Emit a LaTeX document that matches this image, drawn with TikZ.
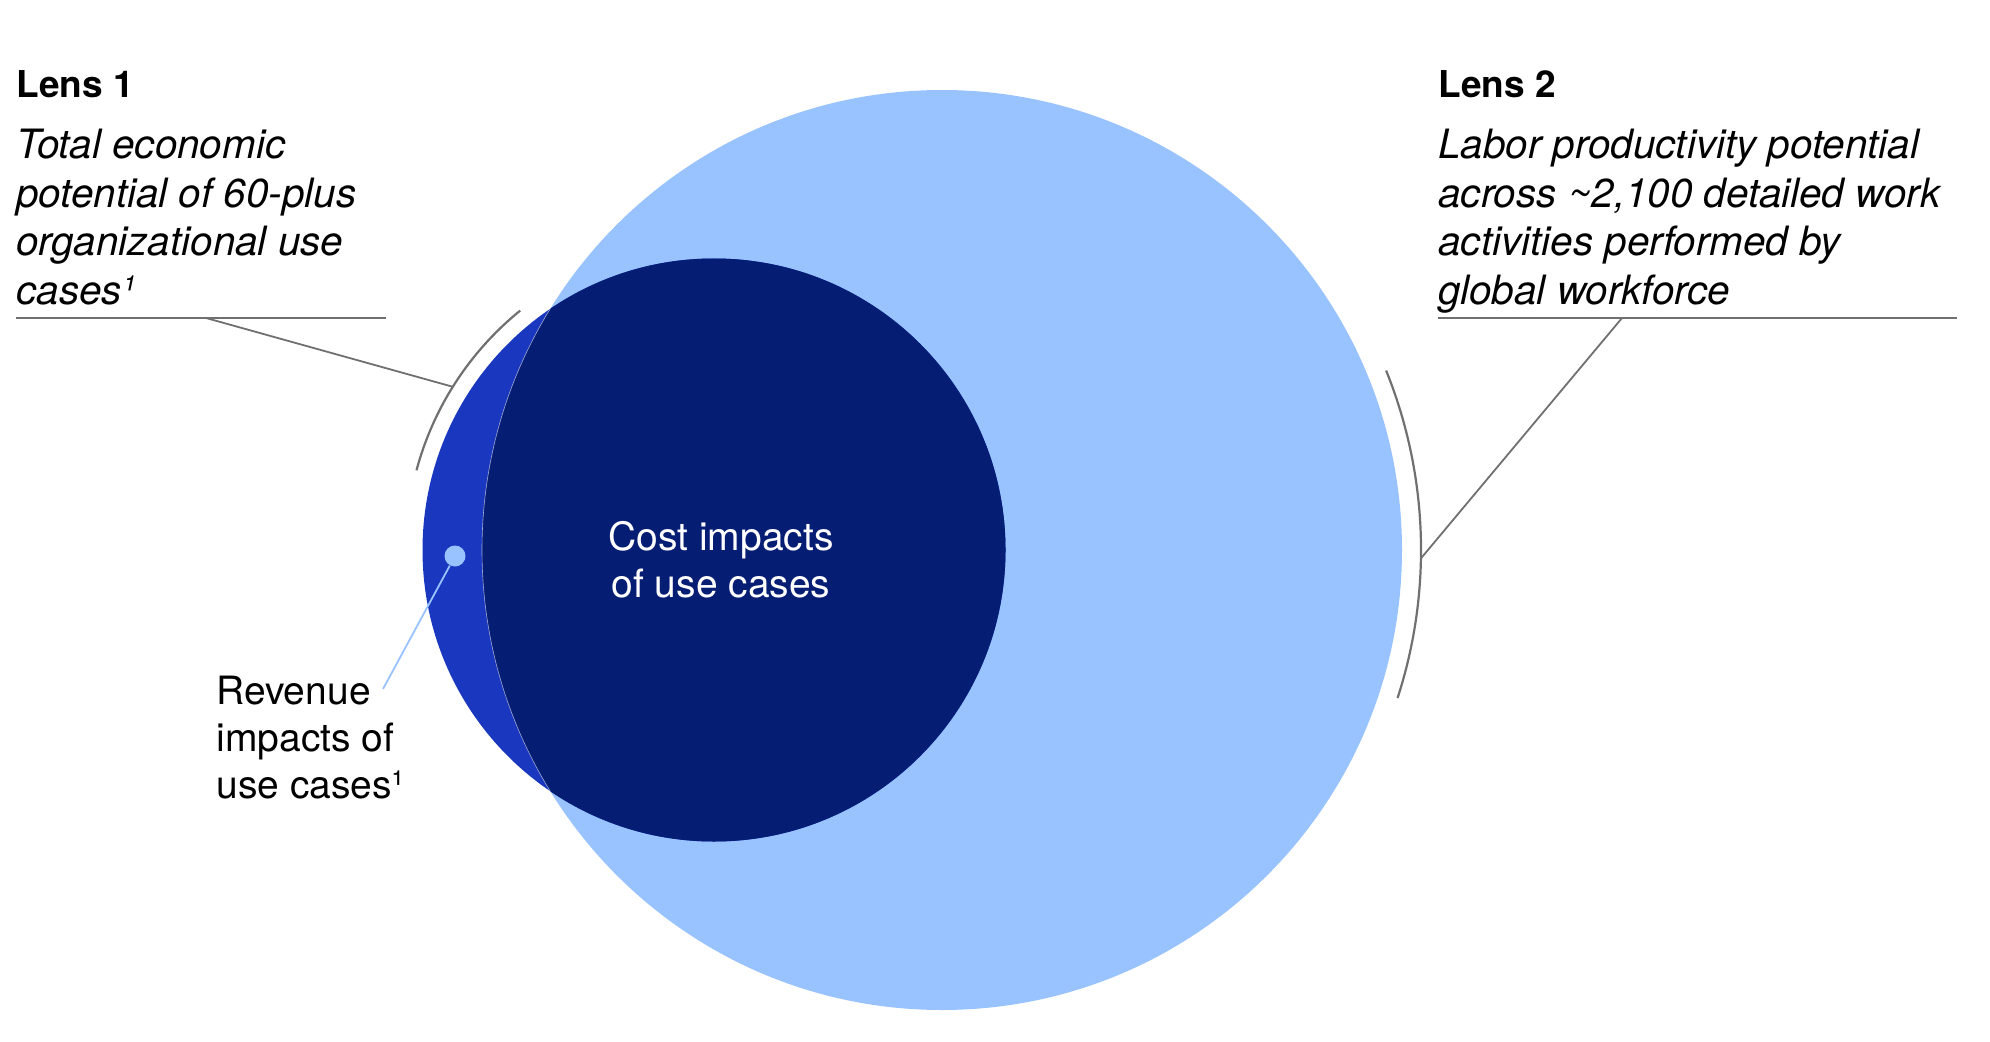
\documentclass[tikz,border=0pt]{standalone}
\usepackage{fontspec}
\setmainfont{TeX Gyre Heros}
\usepackage{tikz}
\usetikzlibrary{positioning}
\definecolor{lenslight}{HTML}{99C3FF}
\definecolor{lensmid}{HTML}{1937BF}
\definecolor{lensdark}{HTML}{061D74}
\definecolor{leadgray}{HTML}{707070}
\tikzstyle{leader}=[line width=0.9pt, color=leadgray]
\tikzstyle{bracket}=[line width=1.1pt, color=leadgray]
\tikzstyle{revlead}=[line width=0.9pt, color=lenslight]

\begin{document}
\begin{tikzpicture}[x=0.5pt, y=0.5pt,
  lenstitle/.style={anchor=base west, inner sep=0pt,
                    font=\fontsize{18.5}{24}\selectfont\bfseries},
  lensdesc/.style={anchor=north west, inner sep=0pt, align=left,
                   font=\fontsize{20.2}{24.2}\selectfont\itshape},
  impact/.style={inner sep=0pt, font=\fontsize{19.5}{23.5}\selectfont}
]
\useasboundingbox (0,0) rectangle (1990,1041);
\coordinate (c1) at (714,491);
\coordinate (c2) at (942,491);
\fill[lenslight] (c2) circle (460);
\fill[lensmid] (c1) circle (291.5);
\begin{scope}
  \clip (c1) circle (291.5);
  \fill[lensdark] (c2) circle (460);
  \draw[white, line width=0.3pt, opacity=0.6] (c2) circle (460);
\end{scope}

\node[lenstitle] (t1) at (16,943) {Lens 1};
\node[lensdesc] (d1) at (16,912) {Total economic\\potential of 60-plus\\organizational use\\cases¹};
\node[lenstitle] (t2) at (1438,943) {Lens 2};
\node[lensdesc] (d2) at (1438,912) {Labor productivity potential\\across \textasciitilde2,100 detailed work\\activities performed by\\global workforce};
\node[impact, white, align=center] (cost) at (721,481) {Cost impacts\\of use cases};
\node[impact, anchor=north west, align=left] (rev) at (216,365) {Revenue\\impacts of\\use cases¹};
\node[circle, fill=lenslight, minimum size=10.5pt, inner sep=0pt] (revdot) at (455,485) {};

\draw[bracket] (c1) ++(129:308) arc[start angle=129, end angle=165, radius=308];
\draw[bracket] (c2) ++(-18:479) arc[start angle=-18, end angle=22, radius=479];
\path (c1) ++(148:308) coordinate (b1);
\path (c2) ++(-1:479) coordinate (b2);
\coordinate (u1) at (206,723);
\coordinate (u2) at (1622,723);
\coordinate (revend) at (383,352);

\draw[leader] (16,723) -- (386,723);
\draw[leader] (1438,723) -- (1957,723);
\draw[leader] (u1) -- (b1);
\draw[leader] (u2) -- (b2);
\draw[revlead] (revdot) -- (revend);
\end{tikzpicture}
\end{document}
